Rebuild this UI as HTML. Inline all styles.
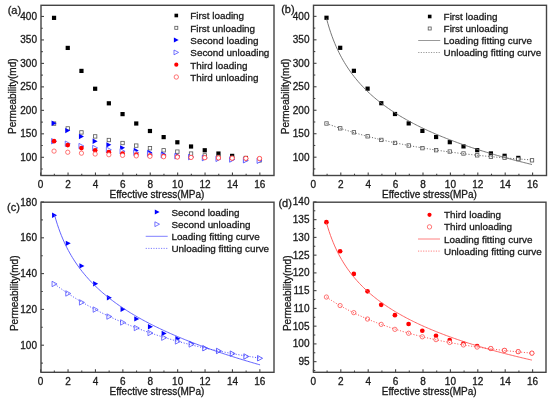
<!DOCTYPE html>
<html><head><meta charset="utf-8"><style>
html,body{margin:0;padding:0;background:#fff;}
svg{display:block;will-change:transform;}
text{font-family:"Liberation Sans", sans-serif;font-size:10px;fill:#1a1a1a;stroke:#1a1a1a;stroke-width:0.3px;}
</style></head><body>
<svg width="550" height="399" viewBox="0 0 550 399">
<rect width="550" height="399" fill="#fff"/>
<rect x="41" y="5.3" width="233" height="170.2" fill="none" stroke="#444" stroke-width="1.4"/>
<line x1="40.65" y1="175.5" x2="40.65" y2="172.5" stroke="#444" stroke-width="1.1"/>
<line x1="54.35" y1="175.5" x2="54.35" y2="173.7" stroke="#444" stroke-width="1.1"/>
<line x1="68.05" y1="175.5" x2="68.05" y2="172.5" stroke="#444" stroke-width="1.1"/>
<line x1="81.75" y1="175.5" x2="81.75" y2="173.7" stroke="#444" stroke-width="1.1"/>
<line x1="95.45" y1="175.5" x2="95.45" y2="172.5" stroke="#444" stroke-width="1.1"/>
<line x1="109.15" y1="175.5" x2="109.15" y2="173.7" stroke="#444" stroke-width="1.1"/>
<line x1="122.85" y1="175.5" x2="122.85" y2="172.5" stroke="#444" stroke-width="1.1"/>
<line x1="136.55" y1="175.5" x2="136.55" y2="173.7" stroke="#444" stroke-width="1.1"/>
<line x1="150.25" y1="175.5" x2="150.25" y2="172.5" stroke="#444" stroke-width="1.1"/>
<line x1="163.95" y1="175.5" x2="163.95" y2="173.7" stroke="#444" stroke-width="1.1"/>
<line x1="177.65" y1="175.5" x2="177.65" y2="172.5" stroke="#444" stroke-width="1.1"/>
<line x1="191.35" y1="175.5" x2="191.35" y2="173.7" stroke="#444" stroke-width="1.1"/>
<line x1="205.05" y1="175.5" x2="205.05" y2="172.5" stroke="#444" stroke-width="1.1"/>
<line x1="218.75" y1="175.5" x2="218.75" y2="173.7" stroke="#444" stroke-width="1.1"/>
<line x1="232.45" y1="175.5" x2="232.45" y2="172.5" stroke="#444" stroke-width="1.1"/>
<line x1="246.15" y1="175.5" x2="246.15" y2="173.7" stroke="#444" stroke-width="1.1"/>
<line x1="259.85" y1="175.5" x2="259.85" y2="172.5" stroke="#444" stroke-width="1.1"/>
<line x1="41" y1="157.30" x2="44" y2="157.30" stroke="#444" stroke-width="1.1"/>
<line x1="41" y1="133.83" x2="44" y2="133.83" stroke="#444" stroke-width="1.1"/>
<line x1="41" y1="110.35" x2="44" y2="110.35" stroke="#444" stroke-width="1.1"/>
<line x1="41" y1="86.88" x2="44" y2="86.88" stroke="#444" stroke-width="1.1"/>
<line x1="41" y1="63.40" x2="44" y2="63.40" stroke="#444" stroke-width="1.1"/>
<line x1="41" y1="39.93" x2="44" y2="39.93" stroke="#444" stroke-width="1.1"/>
<line x1="41" y1="16.45" x2="44" y2="16.45" stroke="#444" stroke-width="1.1"/>
<line x1="41" y1="169.04" x2="42.8" y2="169.04" stroke="#444" stroke-width="1.1"/>
<line x1="41" y1="145.56" x2="42.8" y2="145.56" stroke="#444" stroke-width="1.1"/>
<line x1="41" y1="122.09" x2="42.8" y2="122.09" stroke="#444" stroke-width="1.1"/>
<line x1="41" y1="98.61" x2="42.8" y2="98.61" stroke="#444" stroke-width="1.1"/>
<line x1="41" y1="75.14" x2="42.8" y2="75.14" stroke="#444" stroke-width="1.1"/>
<line x1="41" y1="51.66" x2="42.8" y2="51.66" stroke="#444" stroke-width="1.1"/>
<line x1="41" y1="28.19" x2="42.8" y2="28.19" stroke="#444" stroke-width="1.1"/>
<text x="40.65" y="187.50" text-anchor="middle">0</text>
<text x="68.05" y="187.50" text-anchor="middle">2</text>
<text x="95.45" y="187.50" text-anchor="middle">4</text>
<text x="122.85" y="187.50" text-anchor="middle">6</text>
<text x="150.25" y="187.50" text-anchor="middle">8</text>
<text x="177.65" y="187.50" text-anchor="middle">10</text>
<text x="205.05" y="187.50" text-anchor="middle">12</text>
<text x="232.45" y="187.50" text-anchor="middle">14</text>
<text x="259.85" y="187.50" text-anchor="middle">16</text>
<text x="37" y="160.80" text-anchor="end">100</text>
<text x="37" y="137.33" text-anchor="end">150</text>
<text x="37" y="113.85" text-anchor="end">200</text>
<text x="37" y="90.38" text-anchor="end">250</text>
<text x="37" y="66.90" text-anchor="end">300</text>
<text x="37" y="43.43" text-anchor="end">350</text>
<text x="37" y="19.95" text-anchor="end">400</text>
<text x="157.00" y="197.70" text-anchor="middle" style="font-size:10px">Effective stress(MPa)</text>
<text transform="translate(16.00,96.20) rotate(-90)" text-anchor="middle">Permeability(md)</text>
<text x="7.7" y="14.1" style="font-size:11px">(a)</text>
<rect x="313.5" y="5.3" width="233.0" height="170.2" fill="none" stroke="#444" stroke-width="1.4"/>
<line x1="313.40" y1="175.5" x2="313.40" y2="172.5" stroke="#444" stroke-width="1.1"/>
<line x1="327.10" y1="175.5" x2="327.10" y2="173.7" stroke="#444" stroke-width="1.1"/>
<line x1="340.80" y1="175.5" x2="340.80" y2="172.5" stroke="#444" stroke-width="1.1"/>
<line x1="354.50" y1="175.5" x2="354.50" y2="173.7" stroke="#444" stroke-width="1.1"/>
<line x1="368.20" y1="175.5" x2="368.20" y2="172.5" stroke="#444" stroke-width="1.1"/>
<line x1="381.90" y1="175.5" x2="381.90" y2="173.7" stroke="#444" stroke-width="1.1"/>
<line x1="395.60" y1="175.5" x2="395.60" y2="172.5" stroke="#444" stroke-width="1.1"/>
<line x1="409.30" y1="175.5" x2="409.30" y2="173.7" stroke="#444" stroke-width="1.1"/>
<line x1="423.00" y1="175.5" x2="423.00" y2="172.5" stroke="#444" stroke-width="1.1"/>
<line x1="436.70" y1="175.5" x2="436.70" y2="173.7" stroke="#444" stroke-width="1.1"/>
<line x1="450.40" y1="175.5" x2="450.40" y2="172.5" stroke="#444" stroke-width="1.1"/>
<line x1="464.10" y1="175.5" x2="464.10" y2="173.7" stroke="#444" stroke-width="1.1"/>
<line x1="477.80" y1="175.5" x2="477.80" y2="172.5" stroke="#444" stroke-width="1.1"/>
<line x1="491.50" y1="175.5" x2="491.50" y2="173.7" stroke="#444" stroke-width="1.1"/>
<line x1="505.20" y1="175.5" x2="505.20" y2="172.5" stroke="#444" stroke-width="1.1"/>
<line x1="518.90" y1="175.5" x2="518.90" y2="173.7" stroke="#444" stroke-width="1.1"/>
<line x1="532.60" y1="175.5" x2="532.60" y2="172.5" stroke="#444" stroke-width="1.1"/>
<line x1="313.5" y1="157.20" x2="316.5" y2="157.20" stroke="#444" stroke-width="1.1"/>
<line x1="313.5" y1="133.72" x2="316.5" y2="133.72" stroke="#444" stroke-width="1.1"/>
<line x1="313.5" y1="110.25" x2="316.5" y2="110.25" stroke="#444" stroke-width="1.1"/>
<line x1="313.5" y1="86.77" x2="316.5" y2="86.77" stroke="#444" stroke-width="1.1"/>
<line x1="313.5" y1="63.30" x2="316.5" y2="63.30" stroke="#444" stroke-width="1.1"/>
<line x1="313.5" y1="39.82" x2="316.5" y2="39.82" stroke="#444" stroke-width="1.1"/>
<line x1="313.5" y1="16.35" x2="316.5" y2="16.35" stroke="#444" stroke-width="1.1"/>
<line x1="313.5" y1="168.94" x2="315.3" y2="168.94" stroke="#444" stroke-width="1.1"/>
<line x1="313.5" y1="145.46" x2="315.3" y2="145.46" stroke="#444" stroke-width="1.1"/>
<line x1="313.5" y1="121.99" x2="315.3" y2="121.99" stroke="#444" stroke-width="1.1"/>
<line x1="313.5" y1="98.51" x2="315.3" y2="98.51" stroke="#444" stroke-width="1.1"/>
<line x1="313.5" y1="75.04" x2="315.3" y2="75.04" stroke="#444" stroke-width="1.1"/>
<line x1="313.5" y1="51.56" x2="315.3" y2="51.56" stroke="#444" stroke-width="1.1"/>
<line x1="313.5" y1="28.09" x2="315.3" y2="28.09" stroke="#444" stroke-width="1.1"/>
<text x="313.40" y="187.50" text-anchor="middle">0</text>
<text x="340.80" y="187.50" text-anchor="middle">2</text>
<text x="368.20" y="187.50" text-anchor="middle">4</text>
<text x="395.60" y="187.50" text-anchor="middle">6</text>
<text x="423.00" y="187.50" text-anchor="middle">8</text>
<text x="450.40" y="187.50" text-anchor="middle">10</text>
<text x="477.80" y="187.50" text-anchor="middle">12</text>
<text x="505.20" y="187.50" text-anchor="middle">14</text>
<text x="532.60" y="187.50" text-anchor="middle">16</text>
<text x="309.5" y="160.70" text-anchor="end">100</text>
<text x="309.5" y="137.22" text-anchor="end">150</text>
<text x="309.5" y="113.75" text-anchor="end">200</text>
<text x="309.5" y="90.27" text-anchor="end">250</text>
<text x="309.5" y="66.80" text-anchor="end">300</text>
<text x="309.5" y="43.32" text-anchor="end">350</text>
<text x="309.5" y="19.85" text-anchor="end">400</text>
<text x="429.50" y="197.70" text-anchor="middle" style="font-size:10px">Effective stress(MPa)</text>
<text transform="translate(289.30,96.50) rotate(-90)" text-anchor="middle">Permeability(md)</text>
<text x="281.2" y="12.9" style="font-size:11px">(b)</text>
<rect x="41" y="202.2" width="233" height="170.10000000000002" fill="none" stroke="#444" stroke-width="1.4"/>
<line x1="40.65" y1="372.3" x2="40.65" y2="369.3" stroke="#444" stroke-width="1.1"/>
<line x1="54.35" y1="372.3" x2="54.35" y2="370.5" stroke="#444" stroke-width="1.1"/>
<line x1="68.05" y1="372.3" x2="68.05" y2="369.3" stroke="#444" stroke-width="1.1"/>
<line x1="81.75" y1="372.3" x2="81.75" y2="370.5" stroke="#444" stroke-width="1.1"/>
<line x1="95.45" y1="372.3" x2="95.45" y2="369.3" stroke="#444" stroke-width="1.1"/>
<line x1="109.15" y1="372.3" x2="109.15" y2="370.5" stroke="#444" stroke-width="1.1"/>
<line x1="122.85" y1="372.3" x2="122.85" y2="369.3" stroke="#444" stroke-width="1.1"/>
<line x1="136.55" y1="372.3" x2="136.55" y2="370.5" stroke="#444" stroke-width="1.1"/>
<line x1="150.25" y1="372.3" x2="150.25" y2="369.3" stroke="#444" stroke-width="1.1"/>
<line x1="163.95" y1="372.3" x2="163.95" y2="370.5" stroke="#444" stroke-width="1.1"/>
<line x1="177.65" y1="372.3" x2="177.65" y2="369.3" stroke="#444" stroke-width="1.1"/>
<line x1="191.35" y1="372.3" x2="191.35" y2="370.5" stroke="#444" stroke-width="1.1"/>
<line x1="205.05" y1="372.3" x2="205.05" y2="369.3" stroke="#444" stroke-width="1.1"/>
<line x1="218.75" y1="372.3" x2="218.75" y2="370.5" stroke="#444" stroke-width="1.1"/>
<line x1="232.45" y1="372.3" x2="232.45" y2="369.3" stroke="#444" stroke-width="1.1"/>
<line x1="246.15" y1="372.3" x2="246.15" y2="370.5" stroke="#444" stroke-width="1.1"/>
<line x1="259.85" y1="372.3" x2="259.85" y2="369.3" stroke="#444" stroke-width="1.1"/>
<line x1="41" y1="345.20" x2="44" y2="345.20" stroke="#444" stroke-width="1.1"/>
<line x1="41" y1="309.40" x2="44" y2="309.40" stroke="#444" stroke-width="1.1"/>
<line x1="41" y1="273.60" x2="44" y2="273.60" stroke="#444" stroke-width="1.1"/>
<line x1="41" y1="237.80" x2="44" y2="237.80" stroke="#444" stroke-width="1.1"/>
<line x1="41" y1="202.00" x2="44" y2="202.00" stroke="#444" stroke-width="1.1"/>
<line x1="41" y1="363.10" x2="42.8" y2="363.10" stroke="#444" stroke-width="1.1"/>
<line x1="41" y1="327.30" x2="42.8" y2="327.30" stroke="#444" stroke-width="1.1"/>
<line x1="41" y1="291.50" x2="42.8" y2="291.50" stroke="#444" stroke-width="1.1"/>
<line x1="41" y1="255.70" x2="42.8" y2="255.70" stroke="#444" stroke-width="1.1"/>
<line x1="41" y1="219.90" x2="42.8" y2="219.90" stroke="#444" stroke-width="1.1"/>
<text x="40.65" y="384.80" text-anchor="middle">0</text>
<text x="68.05" y="384.80" text-anchor="middle">2</text>
<text x="95.45" y="384.80" text-anchor="middle">4</text>
<text x="122.85" y="384.80" text-anchor="middle">6</text>
<text x="150.25" y="384.80" text-anchor="middle">8</text>
<text x="177.65" y="384.80" text-anchor="middle">10</text>
<text x="205.05" y="384.80" text-anchor="middle">12</text>
<text x="232.45" y="384.80" text-anchor="middle">14</text>
<text x="259.85" y="384.80" text-anchor="middle">16</text>
<text x="37" y="348.70" text-anchor="end">100</text>
<text x="37" y="312.90" text-anchor="end">120</text>
<text x="37" y="277.10" text-anchor="end">140</text>
<text x="37" y="241.30" text-anchor="end">160</text>
<text x="37" y="205.50" text-anchor="end">180</text>
<text x="157.00" y="394.50" text-anchor="middle" style="font-size:10px">Effective stress(MPa)</text>
<text transform="translate(17.80,293.30) rotate(-90)" text-anchor="middle">Permeability(md)</text>
<text x="7.1" y="210.6" style="font-size:11px">(c)</text>
<rect x="313.5" y="202.2" width="232.5" height="170.10000000000002" fill="none" stroke="#444" stroke-width="1.4"/>
<line x1="313.40" y1="372.3" x2="313.40" y2="369.3" stroke="#444" stroke-width="1.1"/>
<line x1="327.10" y1="372.3" x2="327.10" y2="370.5" stroke="#444" stroke-width="1.1"/>
<line x1="340.80" y1="372.3" x2="340.80" y2="369.3" stroke="#444" stroke-width="1.1"/>
<line x1="354.50" y1="372.3" x2="354.50" y2="370.5" stroke="#444" stroke-width="1.1"/>
<line x1="368.20" y1="372.3" x2="368.20" y2="369.3" stroke="#444" stroke-width="1.1"/>
<line x1="381.90" y1="372.3" x2="381.90" y2="370.5" stroke="#444" stroke-width="1.1"/>
<line x1="395.60" y1="372.3" x2="395.60" y2="369.3" stroke="#444" stroke-width="1.1"/>
<line x1="409.30" y1="372.3" x2="409.30" y2="370.5" stroke="#444" stroke-width="1.1"/>
<line x1="423.00" y1="372.3" x2="423.00" y2="369.3" stroke="#444" stroke-width="1.1"/>
<line x1="436.70" y1="372.3" x2="436.70" y2="370.5" stroke="#444" stroke-width="1.1"/>
<line x1="450.40" y1="372.3" x2="450.40" y2="369.3" stroke="#444" stroke-width="1.1"/>
<line x1="464.10" y1="372.3" x2="464.10" y2="370.5" stroke="#444" stroke-width="1.1"/>
<line x1="477.80" y1="372.3" x2="477.80" y2="369.3" stroke="#444" stroke-width="1.1"/>
<line x1="491.50" y1="372.3" x2="491.50" y2="370.5" stroke="#444" stroke-width="1.1"/>
<line x1="505.20" y1="372.3" x2="505.20" y2="369.3" stroke="#444" stroke-width="1.1"/>
<line x1="518.90" y1="372.3" x2="518.90" y2="370.5" stroke="#444" stroke-width="1.1"/>
<line x1="532.60" y1="372.3" x2="532.60" y2="369.3" stroke="#444" stroke-width="1.1"/>
<line x1="313.5" y1="361.65" x2="316.5" y2="361.65" stroke="#444" stroke-width="1.1"/>
<line x1="313.5" y1="343.90" x2="316.5" y2="343.90" stroke="#444" stroke-width="1.1"/>
<line x1="313.5" y1="326.15" x2="316.5" y2="326.15" stroke="#444" stroke-width="1.1"/>
<line x1="313.5" y1="308.40" x2="316.5" y2="308.40" stroke="#444" stroke-width="1.1"/>
<line x1="313.5" y1="290.65" x2="316.5" y2="290.65" stroke="#444" stroke-width="1.1"/>
<line x1="313.5" y1="272.90" x2="316.5" y2="272.90" stroke="#444" stroke-width="1.1"/>
<line x1="313.5" y1="255.15" x2="316.5" y2="255.15" stroke="#444" stroke-width="1.1"/>
<line x1="313.5" y1="237.40" x2="316.5" y2="237.40" stroke="#444" stroke-width="1.1"/>
<line x1="313.5" y1="219.65" x2="316.5" y2="219.65" stroke="#444" stroke-width="1.1"/>
<line x1="313.5" y1="201.90" x2="316.5" y2="201.90" stroke="#444" stroke-width="1.1"/>
<line x1="313.5" y1="370.52" x2="315.3" y2="370.52" stroke="#444" stroke-width="1.1"/>
<line x1="313.5" y1="352.77" x2="315.3" y2="352.77" stroke="#444" stroke-width="1.1"/>
<line x1="313.5" y1="335.02" x2="315.3" y2="335.02" stroke="#444" stroke-width="1.1"/>
<line x1="313.5" y1="317.27" x2="315.3" y2="317.27" stroke="#444" stroke-width="1.1"/>
<line x1="313.5" y1="299.52" x2="315.3" y2="299.52" stroke="#444" stroke-width="1.1"/>
<line x1="313.5" y1="281.77" x2="315.3" y2="281.77" stroke="#444" stroke-width="1.1"/>
<line x1="313.5" y1="264.02" x2="315.3" y2="264.02" stroke="#444" stroke-width="1.1"/>
<line x1="313.5" y1="246.27" x2="315.3" y2="246.27" stroke="#444" stroke-width="1.1"/>
<line x1="313.5" y1="228.52" x2="315.3" y2="228.52" stroke="#444" stroke-width="1.1"/>
<line x1="313.5" y1="210.77" x2="315.3" y2="210.77" stroke="#444" stroke-width="1.1"/>
<text x="313.40" y="384.80" text-anchor="middle">0</text>
<text x="340.80" y="384.80" text-anchor="middle">2</text>
<text x="368.20" y="384.80" text-anchor="middle">4</text>
<text x="395.60" y="384.80" text-anchor="middle">6</text>
<text x="423.00" y="384.80" text-anchor="middle">8</text>
<text x="450.40" y="384.80" text-anchor="middle">10</text>
<text x="477.80" y="384.80" text-anchor="middle">12</text>
<text x="505.20" y="384.80" text-anchor="middle">14</text>
<text x="532.60" y="384.80" text-anchor="middle">16</text>
<text x="309.5" y="365.15" text-anchor="end">95</text>
<text x="309.5" y="347.40" text-anchor="end">100</text>
<text x="309.5" y="329.65" text-anchor="end">105</text>
<text x="309.5" y="311.90" text-anchor="end">110</text>
<text x="309.5" y="294.15" text-anchor="end">115</text>
<text x="309.5" y="276.40" text-anchor="end">120</text>
<text x="309.5" y="258.65" text-anchor="end">125</text>
<text x="309.5" y="240.90" text-anchor="end">130</text>
<text x="309.5" y="223.15" text-anchor="end">135</text>
<text x="309.5" y="205.40" text-anchor="end">140</text>
<text x="429.25" y="394.50" text-anchor="middle" style="font-size:10px">Effective stress(MPa)</text>
<text transform="translate(291.30,293.30) rotate(-90)" text-anchor="middle">Permeability(md)</text>
<text x="278.4" y="206.5" style="font-size:11px">(d)</text>
<rect x="51.95" y="15.76" width="4.2" height="4.2" fill="#000"/>
<rect x="65.65" y="45.81" width="4.2" height="4.2" fill="#000"/>
<rect x="79.35" y="68.81" width="4.2" height="4.2" fill="#000"/>
<rect x="93.05" y="86.65" width="4.2" height="4.2" fill="#000"/>
<rect x="106.75" y="101.21" width="4.2" height="4.2" fill="#000"/>
<rect x="120.45" y="112.01" width="4.2" height="4.2" fill="#000"/>
<rect x="134.15" y="121.40" width="4.2" height="4.2" fill="#000"/>
<rect x="147.85" y="128.91" width="4.2" height="4.2" fill="#000"/>
<rect x="161.55" y="135.01" width="4.2" height="4.2" fill="#000"/>
<rect x="175.25" y="140.18" width="4.2" height="4.2" fill="#000"/>
<rect x="188.95" y="144.40" width="4.2" height="4.2" fill="#000"/>
<rect x="202.65" y="148.16" width="4.2" height="4.2" fill="#000"/>
<rect x="216.35" y="151.44" width="4.2" height="4.2" fill="#000"/>
<rect x="230.05" y="153.79" width="4.2" height="4.2" fill="#000"/>
<rect x="243.75" y="155.90" width="4.2" height="4.2" fill="#000"/>
<rect x="52.35" y="121.89" width="3.4000000000000004" height="3.4000000000000004" fill="#fff" stroke="#555" stroke-width="0.8"/>
<rect x="66.05" y="126.73" width="3.4000000000000004" height="3.4000000000000004" fill="#fff" stroke="#555" stroke-width="0.8"/>
<rect x="79.75" y="130.72" width="3.4000000000000004" height="3.4000000000000004" fill="#fff" stroke="#555" stroke-width="0.8"/>
<rect x="93.45" y="134.71" width="3.4000000000000004" height="3.4000000000000004" fill="#fff" stroke="#555" stroke-width="0.8"/>
<rect x="107.15" y="138.32" width="3.4000000000000004" height="3.4000000000000004" fill="#fff" stroke="#555" stroke-width="0.8"/>
<rect x="120.85" y="141.33" width="3.4000000000000004" height="3.4000000000000004" fill="#fff" stroke="#555" stroke-width="0.8"/>
<rect x="134.55" y="143.91" width="3.4000000000000004" height="3.4000000000000004" fill="#fff" stroke="#555" stroke-width="0.8"/>
<rect x="148.25" y="146.54" width="3.4000000000000004" height="3.4000000000000004" fill="#fff" stroke="#555" stroke-width="0.8"/>
<rect x="161.95" y="148.60" width="3.4000000000000004" height="3.4000000000000004" fill="#fff" stroke="#555" stroke-width="0.8"/>
<rect x="175.65" y="149.92" width="3.4000000000000004" height="3.4000000000000004" fill="#fff" stroke="#555" stroke-width="0.8"/>
<rect x="189.35" y="151.89" width="3.4000000000000004" height="3.4000000000000004" fill="#fff" stroke="#555" stroke-width="0.8"/>
<rect x="203.05" y="153.72" width="3.4000000000000004" height="3.4000000000000004" fill="#fff" stroke="#555" stroke-width="0.8"/>
<rect x="216.75" y="155.13" width="3.4000000000000004" height="3.4000000000000004" fill="#fff" stroke="#555" stroke-width="0.8"/>
<rect x="230.45" y="156.12" width="3.4000000000000004" height="3.4000000000000004" fill="#fff" stroke="#555" stroke-width="0.8"/>
<rect x="244.15" y="157.48" width="3.4000000000000004" height="3.4000000000000004" fill="#fff" stroke="#555" stroke-width="0.8"/>
<rect x="257.85" y="158.70" width="3.4000000000000004" height="3.4000000000000004" fill="#fff" stroke="#555" stroke-width="0.8"/>
<polygon points="51.55,120.51 56.55,123.21 51.55,125.91" fill="#0000ff"/>
<polygon points="65.25,127.89 70.25,130.59 65.25,133.29" fill="#0000ff"/>
<polygon points="78.95,133.80 83.95,136.50 78.95,139.20" fill="#0000ff"/>
<polygon points="92.65,138.50 97.65,141.20 92.65,143.90" fill="#0000ff"/>
<polygon points="106.35,142.16 111.35,144.86 106.35,147.56" fill="#0000ff"/>
<polygon points="120.05,145.16 125.05,147.86 120.05,150.56" fill="#0000ff"/>
<polygon points="133.75,147.70 138.75,150.40 133.75,153.10" fill="#0000ff"/>
<polygon points="147.45,149.76 152.45,152.46 147.45,155.16" fill="#0000ff"/>
<polygon points="161.15,151.50 166.15,154.20 161.15,156.90" fill="#0000ff"/>
<polygon points="174.85,152.91 179.85,155.61 174.85,158.31" fill="#0000ff"/>
<polygon points="188.55,154.13 193.55,156.83 188.55,159.53" fill="#0000ff"/>
<polygon points="202.25,155.40 207.25,158.10 202.25,160.80" fill="#0000ff"/>
<polygon points="215.95,156.10 220.95,158.80 215.95,161.50" fill="#0000ff"/>
<polygon points="229.65,156.81 234.65,159.51 229.65,162.21" fill="#0000ff"/>
<polygon points="243.35,157.56 248.35,160.26 243.35,162.96" fill="#0000ff"/>
<polygon points="257.05,158.03 262.05,160.73 257.05,163.43" fill="#0000ff"/>
<polygon points="51.55,138.54 56.55,141.24 51.55,143.94" fill="#fff" stroke="#4848ff" stroke-width="0.75"/>
<polygon points="65.25,141.03 70.25,143.73 65.25,146.43" fill="#fff" stroke="#4848ff" stroke-width="0.75"/>
<polygon points="78.95,143.38 83.95,146.08 78.95,148.78" fill="#fff" stroke="#4848ff" stroke-width="0.75"/>
<polygon points="92.65,145.26 97.65,147.96 92.65,150.66" fill="#fff" stroke="#4848ff" stroke-width="0.75"/>
<polygon points="106.35,147.09 111.35,149.79 106.35,152.49" fill="#fff" stroke="#4848ff" stroke-width="0.75"/>
<polygon points="120.05,148.64 125.05,151.34 120.05,154.04" fill="#fff" stroke="#4848ff" stroke-width="0.75"/>
<polygon points="133.75,150.09 138.75,152.79 133.75,155.49" fill="#fff" stroke="#4848ff" stroke-width="0.75"/>
<polygon points="147.45,151.41 152.45,154.11 147.45,156.81" fill="#fff" stroke="#4848ff" stroke-width="0.75"/>
<polygon points="161.15,152.63 166.15,155.33 161.15,158.03" fill="#fff" stroke="#4848ff" stroke-width="0.75"/>
<polygon points="174.85,153.61 179.85,156.31 174.85,159.01" fill="#fff" stroke="#4848ff" stroke-width="0.75"/>
<polygon points="188.55,154.41 193.55,157.11 188.55,159.81" fill="#fff" stroke="#4848ff" stroke-width="0.75"/>
<polygon points="202.25,155.40 207.25,158.10 202.25,160.80" fill="#fff" stroke="#4848ff" stroke-width="0.75"/>
<polygon points="215.95,156.10 220.95,158.80 215.95,161.50" fill="#fff" stroke="#4848ff" stroke-width="0.75"/>
<polygon points="229.65,156.81 234.65,159.51 229.65,162.21" fill="#fff" stroke="#4848ff" stroke-width="0.75"/>
<polygon points="243.35,157.56 248.35,160.26 243.35,162.96" fill="#fff" stroke="#4848ff" stroke-width="0.75"/>
<polygon points="257.05,158.03 262.05,160.73 257.05,163.43" fill="#fff" stroke="#4848ff" stroke-width="0.75"/>
<circle cx="54.05" cy="141.20" r="2.35" fill="#ff0000"/>
<circle cx="67.75" cy="145.05" r="2.35" fill="#ff0000"/>
<circle cx="81.45" cy="148.05" r="2.35" fill="#ff0000"/>
<circle cx="95.15" cy="150.35" r="2.35" fill="#ff0000"/>
<circle cx="108.85" cy="152.14" r="2.35" fill="#ff0000"/>
<circle cx="122.55" cy="153.50" r="2.35" fill="#ff0000"/>
<circle cx="136.25" cy="154.67" r="2.35" fill="#ff0000"/>
<circle cx="149.95" cy="155.56" r="2.35" fill="#ff0000"/>
<circle cx="163.65" cy="156.22" r="2.35" fill="#ff0000"/>
<circle cx="177.35" cy="156.78" r="2.35" fill="#ff0000"/>
<circle cx="191.05" cy="157.25" r="2.35" fill="#ff0000"/>
<circle cx="204.75" cy="157.58" r="2.35" fill="#ff0000"/>
<circle cx="218.45" cy="157.91" r="2.35" fill="#ff0000"/>
<circle cx="232.15" cy="158.15" r="2.35" fill="#ff0000"/>
<circle cx="245.85" cy="158.33" r="2.35" fill="#ff0000"/>
<circle cx="259.55" cy="158.52" r="2.35" fill="#ff0000"/>
<circle cx="54.05" cy="151.10" r="2.15" fill="#fff" stroke="#ff4848" stroke-width="0.75"/>
<circle cx="67.75" cy="152.23" r="2.15" fill="#fff" stroke="#ff4848" stroke-width="0.75"/>
<circle cx="81.45" cy="153.17" r="2.15" fill="#fff" stroke="#ff4848" stroke-width="0.75"/>
<circle cx="95.15" cy="154.01" r="2.15" fill="#fff" stroke="#ff4848" stroke-width="0.75"/>
<circle cx="108.85" cy="154.72" r="2.15" fill="#fff" stroke="#ff4848" stroke-width="0.75"/>
<circle cx="122.55" cy="155.38" r="2.15" fill="#fff" stroke="#ff4848" stroke-width="0.75"/>
<circle cx="136.25" cy="155.89" r="2.15" fill="#fff" stroke="#ff4848" stroke-width="0.75"/>
<circle cx="149.95" cy="156.36" r="2.15" fill="#fff" stroke="#ff4848" stroke-width="0.75"/>
<circle cx="163.65" cy="156.74" r="2.15" fill="#fff" stroke="#ff4848" stroke-width="0.75"/>
<circle cx="177.35" cy="157.11" r="2.15" fill="#fff" stroke="#ff4848" stroke-width="0.75"/>
<circle cx="191.05" cy="157.44" r="2.15" fill="#fff" stroke="#ff4848" stroke-width="0.75"/>
<circle cx="204.75" cy="157.72" r="2.15" fill="#fff" stroke="#ff4848" stroke-width="0.75"/>
<circle cx="218.45" cy="157.91" r="2.15" fill="#fff" stroke="#ff4848" stroke-width="0.75"/>
<circle cx="232.15" cy="158.15" r="2.15" fill="#fff" stroke="#ff4848" stroke-width="0.75"/>
<circle cx="245.85" cy="158.33" r="2.15" fill="#fff" stroke="#ff4848" stroke-width="0.75"/>
<circle cx="259.55" cy="158.52" r="2.15" fill="#fff" stroke="#ff4848" stroke-width="0.75"/>
<rect x="174.50" y="13.70" width="3.6" height="3.6" fill="#000"/>
<text x="190.3" y="19.30" style="font-size:9.9px">First loading</text>
<rect x="174.80" y="26.30" width="3.0" height="3.0" fill="#fff" stroke="#555" stroke-width="0.8"/>
<text x="190.3" y="31.60" style="font-size:9.9px">First unloading</text>
<polygon points="173.90,37.60 178.70,40.10 173.90,42.60" fill="#0000ff"/>
<text x="190.3" y="43.90" style="font-size:9.9px">Second loading</text>
<polygon points="174.00,50.00 178.60,52.40 174.00,54.80" fill="#fff" stroke="#4848ff" stroke-width="0.75"/>
<text x="190.3" y="56.20" style="font-size:9.9px">Second unloading</text>
<circle cx="176.30" cy="64.70" r="2.1" fill="#ff0000"/>
<text x="190.3" y="68.50" style="font-size:9.9px">Third loading</text>
<circle cx="176.30" cy="77.00" r="2.1999999999999997" fill="#fff" stroke="#ff4848" stroke-width="0.75"/>
<text x="190.3" y="80.80" style="font-size:9.9px">Third unloading</text>
<rect x="324.40" y="15.66" width="4.2" height="4.2" fill="#000"/>
<rect x="338.10" y="45.71" width="4.2" height="4.2" fill="#000"/>
<rect x="351.80" y="68.71" width="4.2" height="4.2" fill="#000"/>
<rect x="365.50" y="86.55" width="4.2" height="4.2" fill="#000"/>
<rect x="379.20" y="101.11" width="4.2" height="4.2" fill="#000"/>
<rect x="392.90" y="111.91" width="4.2" height="4.2" fill="#000"/>
<rect x="406.60" y="121.30" width="4.2" height="4.2" fill="#000"/>
<rect x="420.30" y="128.81" width="4.2" height="4.2" fill="#000"/>
<rect x="434.00" y="134.91" width="4.2" height="4.2" fill="#000"/>
<rect x="447.70" y="140.08" width="4.2" height="4.2" fill="#000"/>
<rect x="461.40" y="144.30" width="4.2" height="4.2" fill="#000"/>
<rect x="475.10" y="148.06" width="4.2" height="4.2" fill="#000"/>
<rect x="488.80" y="151.34" width="4.2" height="4.2" fill="#000"/>
<rect x="502.50" y="153.69" width="4.2" height="4.2" fill="#000"/>
<rect x="516.20" y="155.80" width="4.2" height="4.2" fill="#000"/>
<rect x="324.80" y="121.79" width="3.4000000000000004" height="3.4000000000000004" fill="#fff" stroke="#555" stroke-width="0.8"/>
<rect x="338.50" y="126.63" width="3.4000000000000004" height="3.4000000000000004" fill="#fff" stroke="#555" stroke-width="0.8"/>
<rect x="352.20" y="130.62" width="3.4000000000000004" height="3.4000000000000004" fill="#fff" stroke="#555" stroke-width="0.8"/>
<rect x="365.90" y="134.61" width="3.4000000000000004" height="3.4000000000000004" fill="#fff" stroke="#555" stroke-width="0.8"/>
<rect x="379.60" y="138.22" width="3.4000000000000004" height="3.4000000000000004" fill="#fff" stroke="#555" stroke-width="0.8"/>
<rect x="393.30" y="141.23" width="3.4000000000000004" height="3.4000000000000004" fill="#fff" stroke="#555" stroke-width="0.8"/>
<rect x="407.00" y="143.81" width="3.4000000000000004" height="3.4000000000000004" fill="#fff" stroke="#555" stroke-width="0.8"/>
<rect x="420.70" y="146.44" width="3.4000000000000004" height="3.4000000000000004" fill="#fff" stroke="#555" stroke-width="0.8"/>
<rect x="434.40" y="148.50" width="3.4000000000000004" height="3.4000000000000004" fill="#fff" stroke="#555" stroke-width="0.8"/>
<rect x="448.10" y="149.82" width="3.4000000000000004" height="3.4000000000000004" fill="#fff" stroke="#555" stroke-width="0.8"/>
<rect x="461.80" y="151.79" width="3.4000000000000004" height="3.4000000000000004" fill="#fff" stroke="#555" stroke-width="0.8"/>
<rect x="475.50" y="153.62" width="3.4000000000000004" height="3.4000000000000004" fill="#fff" stroke="#555" stroke-width="0.8"/>
<rect x="489.20" y="155.03" width="3.4000000000000004" height="3.4000000000000004" fill="#fff" stroke="#555" stroke-width="0.8"/>
<rect x="502.90" y="156.02" width="3.4000000000000004" height="3.4000000000000004" fill="#fff" stroke="#555" stroke-width="0.8"/>
<rect x="516.60" y="157.38" width="3.4000000000000004" height="3.4000000000000004" fill="#fff" stroke="#555" stroke-width="0.8"/>
<rect x="530.30" y="158.60" width="3.4000000000000004" height="3.4000000000000004" fill="#fff" stroke="#555" stroke-width="0.8"/>
<path d="M326.50,18.46 L327.88,23.52 L329.26,28.13 L330.64,32.37 L332.02,36.29 L333.40,39.94 L334.78,43.35 L336.15,46.56 L337.53,49.58 L338.91,52.44 L340.29,55.15 L341.67,57.73 L343.05,60.19 L344.43,62.54 L345.81,64.79 L347.19,66.94 L348.57,69.01 L349.95,71.01 L351.33,72.93 L352.70,74.78 L354.08,76.57 L355.46,78.30 L356.84,79.98 L358.22,81.60 L359.60,83.18 L360.98,84.71 L362.36,86.19 L363.74,87.64 L365.12,89.05 L366.50,90.42 L367.88,91.75 L369.26,93.06 L370.63,94.33 L372.01,95.57 L373.39,96.78 L374.77,97.97 L376.15,99.13 L377.53,100.26 L378.91,101.37 L380.29,102.46 L381.67,103.53 L383.05,104.57 L384.43,105.60 L385.81,106.60 L387.18,107.59 L388.56,108.55 L389.94,109.50 L391.32,110.44 L392.70,111.35 L394.08,112.26 L395.46,113.14 L396.84,114.01 L398.22,114.87 L399.60,115.72 L400.98,116.55 L402.36,117.36 L403.73,118.17 L405.11,118.96 L406.49,119.74 L407.87,120.51 L409.25,121.27 L410.63,122.02 L412.01,122.76 L413.39,123.48 L414.77,124.20 L416.15,124.91 L417.53,125.61 L418.91,126.30 L420.29,126.98 L421.66,127.65 L423.04,128.31 L424.42,128.97 L425.80,129.61 L427.18,130.25 L428.56,130.88 L429.94,131.51 L431.32,132.12 L432.70,132.73 L434.08,133.34 L435.46,133.93 L436.84,134.52 L438.21,135.10 L439.59,135.68 L440.97,136.25 L442.35,136.81 L443.73,137.37 L445.11,137.92 L446.49,138.47 L447.87,139.01 L449.25,139.55 L450.63,140.08 L452.01,140.60 L453.39,141.12 L454.77,141.63 L456.14,142.14 L457.52,142.65 L458.90,143.15 L460.28,143.64 L461.66,144.13 L463.04,144.62 L464.42,145.10 L465.80,145.58 L467.18,146.05 L468.56,146.52 L469.94,146.98 L471.32,147.44 L472.69,147.90 L474.07,148.35 L475.45,148.80 L476.83,149.24 L478.21,149.69 L479.59,150.12 L480.97,150.56 L482.35,150.99 L483.73,151.41 L485.11,151.84 L486.49,152.26 L487.87,152.67 L489.24,153.09 L490.62,153.50 L492.00,153.90 L493.38,154.31 L494.76,154.71 L496.14,155.11 L497.52,155.50 L498.90,155.89 L500.28,156.28 L501.66,156.67 L503.04,157.05 L504.42,157.43 L505.80,157.81 L507.17,158.19 L508.55,158.56 L509.93,158.93 L511.31,159.29 L512.69,159.66 L514.07,160.02 L515.45,160.38 L516.83,160.74 L518.21,161.09 L519.59,161.45 L520.97,161.80 L522.35,162.14 L523.72,162.49 L525.10,162.83 L526.48,163.17 L527.86,163.51 L529.24,163.85 L530.62,164.18 L532.00,164.52" fill="none" stroke="#666" stroke-width="0.9"/>
<path d="M326.50,123.49 L328.23,124.13 L329.95,124.75 L331.68,125.37 L333.41,125.98 L335.13,126.58 L336.86,127.17 L338.59,127.75 L340.32,128.33 L342.04,128.89 L343.77,129.45 L345.50,130.00 L347.22,130.54 L348.95,131.07 L350.68,131.60 L352.40,132.12 L354.13,132.63 L355.86,133.13 L357.58,133.62 L359.31,134.11 L361.04,134.59 L362.76,135.07 L364.49,135.54 L366.22,136.00 L367.95,136.45 L369.67,136.90 L371.40,137.34 L373.13,137.78 L374.85,138.21 L376.58,138.63 L378.31,139.05 L380.03,139.46 L381.76,139.86 L383.49,140.26 L385.21,140.66 L386.94,141.05 L388.67,141.43 L390.39,141.81 L392.12,142.18 L393.85,142.54 L395.58,142.91 L397.30,143.26 L399.03,143.61 L400.76,143.96 L402.48,144.30 L404.21,144.64 L405.94,144.97 L407.66,145.30 L409.39,145.62 L411.12,145.94 L412.84,146.25 L414.57,146.56 L416.30,146.86 L418.03,147.17 L419.75,147.46 L421.48,147.75 L423.21,148.04 L424.93,148.33 L426.66,148.60 L428.39,148.88 L430.11,149.15 L431.84,149.42 L433.57,149.68 L435.29,149.95 L437.02,150.20 L438.75,150.46 L440.47,150.71 L442.20,150.95 L443.93,151.19 L445.66,151.43 L447.38,151.67 L449.11,151.90 L450.84,152.13 L452.56,152.36 L454.29,152.58 L456.02,152.80 L457.74,153.02 L459.47,153.23 L461.20,153.44 L462.92,153.65 L464.65,153.85 L466.38,154.05 L468.11,154.25 L469.83,154.45 L471.56,154.64 L473.29,154.83 L475.01,155.02 L476.74,155.21 L478.47,155.39 L480.19,155.57 L481.92,155.75 L483.65,155.92 L485.37,156.09 L487.10,156.26 L488.83,156.43 L490.55,156.60 L492.28,156.76 L494.01,156.92 L495.74,157.08 L497.46,157.23 L499.19,157.39 L500.92,157.54 L502.64,157.69 L504.37,157.84 L506.10,157.98 L507.82,158.13 L509.55,158.27 L511.28,158.41 L513.00,158.54 L514.73,158.68 L516.46,158.81 L518.18,158.95 L519.91,159.08 L521.64,159.20 L523.37,159.33 L525.09,159.45 L526.82,159.58 L528.55,159.70 L530.27,159.82 L532.00,159.93" fill="none" stroke="#555" stroke-width="0.9" stroke-dasharray="1.1,1.7"/>
<rect x="427.90" y="14.70" width="3.6" height="3.6" fill="#000"/>
<text x="443.6" y="20.30" style="font-size:9.9px">First loading</text>
<rect x="428.20" y="27.00" width="3.0" height="3.0" fill="#fff" stroke="#555" stroke-width="0.8"/>
<text x="443.6" y="32.30" style="font-size:9.9px">First unloading</text>
<line x1="418.2" y1="40.50" x2="440.2" y2="40.50" stroke="#999" stroke-width="1"/>
<text x="443.6" y="44.30" style="font-size:9.9px">Loading fitting curve</text>
<line x1="418.2" y1="52.50" x2="440.2" y2="52.50" stroke="#999" stroke-width="1" stroke-dasharray="1.2,1.35"/>
<text x="443.6" y="56.30" style="font-size:9.9px">Unloading fitting curve</text>
<polygon points="52.05,212.55 57.05,215.25 52.05,217.95" fill="#0000ff"/>
<polygon points="65.75,240.65 70.75,243.35 65.75,246.05" fill="#0000ff"/>
<polygon points="79.45,263.20 84.45,265.90 79.45,268.60" fill="#0000ff"/>
<polygon points="93.15,281.10 98.15,283.80 93.15,286.50" fill="#0000ff"/>
<polygon points="106.85,295.06 111.85,297.76 106.85,300.46" fill="#0000ff"/>
<polygon points="120.55,306.52 125.55,309.22 120.55,311.92" fill="#0000ff"/>
<polygon points="134.25,316.19 139.25,318.89 134.25,321.59" fill="#0000ff"/>
<polygon points="147.95,324.06 152.95,326.76 147.95,329.46" fill="#0000ff"/>
<polygon points="161.65,330.69 166.65,333.39 161.65,336.09" fill="#0000ff"/>
<polygon points="175.35,336.06 180.35,338.76 175.35,341.46" fill="#0000ff"/>
<polygon points="189.05,340.71 194.05,343.41 189.05,346.11" fill="#0000ff"/>
<polygon points="202.75,345.54 207.75,348.24 202.75,350.94" fill="#0000ff"/>
<polygon points="216.45,348.23 221.45,350.93 216.45,353.63" fill="#0000ff"/>
<polygon points="230.15,350.91 235.15,353.61 230.15,356.31" fill="#0000ff"/>
<polygon points="243.85,353.78 248.85,356.48 243.85,359.18" fill="#0000ff"/>
<polygon points="257.55,355.57 262.55,358.27 257.55,360.97" fill="#0000ff"/>
<polygon points="52.05,281.28 57.05,283.98 52.05,286.68" fill="#fff" stroke="#4848ff" stroke-width="0.75"/>
<polygon points="65.75,290.77 70.75,293.47 65.75,296.17" fill="#fff" stroke="#4848ff" stroke-width="0.75"/>
<polygon points="79.45,299.72 84.45,302.42 79.45,305.12" fill="#fff" stroke="#4848ff" stroke-width="0.75"/>
<polygon points="93.15,306.88 98.15,309.58 93.15,312.28" fill="#fff" stroke="#4848ff" stroke-width="0.75"/>
<polygon points="106.85,313.86 111.85,316.56 106.85,319.26" fill="#fff" stroke="#4848ff" stroke-width="0.75"/>
<polygon points="120.55,319.77 125.55,322.47 120.55,325.17" fill="#fff" stroke="#4848ff" stroke-width="0.75"/>
<polygon points="134.25,325.32 139.25,328.02 134.25,330.72" fill="#fff" stroke="#4848ff" stroke-width="0.75"/>
<polygon points="147.95,330.33 152.95,333.03 147.95,335.73" fill="#fff" stroke="#4848ff" stroke-width="0.75"/>
<polygon points="161.65,334.98 166.65,337.68 161.65,340.38" fill="#fff" stroke="#4848ff" stroke-width="0.75"/>
<polygon points="175.35,338.74 180.35,341.44 175.35,344.14" fill="#fff" stroke="#4848ff" stroke-width="0.75"/>
<polygon points="189.05,341.78 194.05,344.48 189.05,347.18" fill="#fff" stroke="#4848ff" stroke-width="0.75"/>
<polygon points="202.75,345.54 207.75,348.24 202.75,350.94" fill="#fff" stroke="#4848ff" stroke-width="0.75"/>
<polygon points="216.45,348.23 221.45,350.93 216.45,353.63" fill="#fff" stroke="#4848ff" stroke-width="0.75"/>
<polygon points="230.15,350.91 235.15,353.61 230.15,356.31" fill="#fff" stroke="#4848ff" stroke-width="0.75"/>
<polygon points="243.85,353.78 248.85,356.48 243.85,359.18" fill="#fff" stroke="#4848ff" stroke-width="0.75"/>
<polygon points="257.55,355.57 262.55,358.27 257.55,360.97" fill="#fff" stroke="#4848ff" stroke-width="0.75"/>
<path d="M54.55,215.00 L55.93,219.85 L57.31,224.28 L58.69,228.37 L60.07,232.15 L61.45,235.68 L62.83,238.98 L64.20,242.09 L65.58,245.02 L66.96,247.80 L68.34,250.44 L69.72,252.96 L71.10,255.36 L72.48,257.66 L73.86,259.86 L75.24,261.98 L76.62,264.01 L78.00,265.97 L79.38,267.87 L80.75,269.70 L82.13,271.47 L83.51,273.18 L84.89,274.84 L86.27,276.46 L87.65,278.03 L89.03,279.55 L90.41,281.04 L91.79,282.48 L93.17,283.89 L94.55,285.26 L95.93,286.61 L97.31,287.92 L98.68,289.20 L100.06,290.45 L101.44,291.68 L102.82,292.88 L104.20,294.05 L105.58,295.20 L106.96,296.33 L108.34,297.44 L109.72,298.53 L111.10,299.59 L112.48,300.64 L113.86,301.67 L115.23,302.68 L116.61,303.67 L117.99,304.65 L119.37,305.61 L120.75,306.56 L122.13,307.49 L123.51,308.41 L124.89,309.31 L126.27,310.20 L127.65,311.08 L129.03,311.94 L130.41,312.80 L131.78,313.64 L133.16,314.47 L134.54,315.28 L135.92,316.09 L137.30,316.89 L138.68,317.67 L140.06,318.45 L141.44,319.22 L142.82,319.98 L144.20,320.72 L145.58,321.46 L146.96,322.20 L148.34,322.92 L149.71,323.63 L151.09,324.34 L152.47,325.04 L153.85,325.73 L155.23,326.41 L156.61,327.09 L157.99,327.76 L159.37,328.42 L160.75,329.08 L162.13,329.73 L163.51,330.37 L164.89,331.01 L166.26,331.64 L167.64,332.26 L169.02,332.88 L170.40,333.49 L171.78,334.10 L173.16,334.70 L174.54,335.30 L175.92,335.89 L177.30,336.47 L178.68,337.06 L180.06,337.63 L181.44,338.20 L182.82,338.77 L184.19,339.33 L185.57,339.89 L186.95,340.44 L188.33,340.99 L189.71,341.53 L191.09,342.07 L192.47,342.60 L193.85,343.13 L195.23,343.66 L196.61,344.18 L197.99,344.70 L199.37,345.22 L200.74,345.73 L202.12,346.24 L203.50,346.74 L204.88,347.24 L206.26,347.74 L207.64,348.23 L209.02,348.72 L210.40,349.21 L211.78,349.69 L213.16,350.17 L214.54,350.65 L215.92,351.12 L217.29,351.59 L218.67,352.06 L220.05,352.53 L221.43,352.99 L222.81,353.45 L224.19,353.90 L225.57,354.36 L226.95,354.81 L228.33,355.25 L229.71,355.70 L231.09,356.14 L232.47,356.58 L233.85,357.02 L235.22,357.45 L236.60,357.89 L237.98,358.32 L239.36,358.74 L240.74,359.17 L242.12,359.59 L243.50,360.01 L244.88,360.43 L246.26,360.84 L247.64,361.26 L249.02,361.67 L250.40,362.08 L251.77,362.48 L253.15,362.89 L254.53,363.29 L255.91,363.69 L257.29,364.09 L258.67,364.49 L260.05,364.88" fill="none" stroke="#5050ff" stroke-width="0.9"/>
<path d="M54.55,283.98 L56.28,285.28 L58.00,286.55 L59.73,287.80 L61.46,289.02 L63.18,290.22 L64.91,291.41 L66.64,292.57 L68.37,293.72 L70.09,294.84 L71.82,295.95 L73.55,297.05 L75.27,298.12 L77.00,299.19 L78.73,300.23 L80.45,301.26 L82.18,302.28 L83.91,303.28 L85.63,304.26 L87.36,305.24 L89.09,306.20 L90.81,307.14 L92.54,308.08 L94.27,309.00 L96.00,309.90 L97.72,310.80 L99.45,311.68 L101.18,312.55 L102.90,313.41 L104.63,314.25 L106.36,315.09 L108.08,315.91 L109.81,316.72 L111.54,317.52 L113.26,318.31 L114.99,319.09 L116.72,319.86 L118.44,320.62 L120.17,321.37 L121.90,322.11 L123.63,322.84 L125.35,323.55 L127.08,324.26 L128.81,324.96 L130.53,325.65 L132.26,326.33 L133.99,327.00 L135.71,327.67 L137.44,328.32 L139.17,328.97 L140.89,329.60 L142.62,330.23 L144.35,330.85 L146.08,331.46 L147.80,332.06 L149.53,332.66 L151.26,333.25 L152.98,333.83 L154.71,334.40 L156.44,334.96 L158.16,335.52 L159.89,336.07 L161.62,336.61 L163.34,337.14 L165.07,337.67 L166.80,338.19 L168.52,338.70 L170.25,339.21 L171.98,339.71 L173.71,340.20 L175.43,340.69 L177.16,341.17 L178.89,341.65 L180.61,342.11 L182.34,342.58 L184.07,343.03 L185.79,343.48 L187.52,343.92 L189.25,344.36 L190.97,344.79 L192.70,345.22 L194.43,345.64 L196.16,346.06 L197.88,346.46 L199.61,346.87 L201.34,347.27 L203.06,347.66 L204.79,348.05 L206.52,348.43 L208.24,348.81 L209.97,349.18 L211.70,349.55 L213.42,349.92 L215.15,350.27 L216.88,350.63 L218.60,350.98 L220.33,351.32 L222.06,351.66 L223.79,352.00 L225.51,352.33 L227.24,352.65 L228.97,352.98 L230.69,353.29 L232.42,353.61 L234.15,353.92 L235.87,354.22 L237.60,354.53 L239.33,354.82 L241.05,355.12 L242.78,355.41 L244.51,355.69 L246.23,355.98 L247.96,356.25 L249.69,356.53 L251.42,356.80 L253.14,357.07 L254.87,357.33 L256.60,357.59 L258.32,357.85 L260.05,358.11" fill="none" stroke="#4040ff" stroke-width="0.9" stroke-dasharray="1.1,1.7"/>
<polygon points="154.80,209.60 159.60,212.10 154.80,214.60" fill="#0000ff"/>
<text x="171.4" y="215.60" style="font-size:9.9px">Second loading</text>
<polygon points="154.90,221.80 159.50,224.20 154.90,226.60" fill="#fff" stroke="#4848ff" stroke-width="0.75"/>
<text x="171.4" y="227.70" style="font-size:9.9px">Second unloading</text>
<line x1="145.7" y1="236.30" x2="167.7" y2="236.30" stroke="#8080ff" stroke-width="1"/>
<text x="171.4" y="239.80" style="font-size:9.9px">Loading fitting curve</text>
<line x1="145.7" y1="248.40" x2="167.7" y2="248.40" stroke="#8080ff" stroke-width="1" stroke-dasharray="1.2,1.35"/>
<text x="171.4" y="251.90" style="font-size:9.9px">Unloading fitting curve</text>
<circle cx="326.40" cy="222.13" r="2.35" fill="#ff0000"/>
<circle cx="340.10" cy="251.25" r="2.35" fill="#ff0000"/>
<circle cx="353.80" cy="273.96" r="2.35" fill="#ff0000"/>
<circle cx="367.50" cy="291.36" r="2.35" fill="#ff0000"/>
<circle cx="381.20" cy="304.85" r="2.35" fill="#ff0000"/>
<circle cx="394.90" cy="315.14" r="2.35" fill="#ff0000"/>
<circle cx="408.60" cy="324.02" r="2.35" fill="#ff0000"/>
<circle cx="422.30" cy="330.76" r="2.35" fill="#ff0000"/>
<circle cx="436.00" cy="335.74" r="2.35" fill="#ff0000"/>
<circle cx="449.70" cy="340.00" r="2.35" fill="#ff0000"/>
<circle cx="463.40" cy="343.55" r="2.35" fill="#ff0000"/>
<circle cx="477.10" cy="346.03" r="2.35" fill="#ff0000"/>
<circle cx="490.80" cy="348.51" r="2.35" fill="#ff0000"/>
<circle cx="504.50" cy="350.29" r="2.35" fill="#ff0000"/>
<circle cx="518.20" cy="351.71" r="2.35" fill="#ff0000"/>
<circle cx="531.90" cy="353.13" r="2.35" fill="#ff0000"/>
<circle cx="326.40" cy="297.04" r="2.15" fill="#fff" stroke="#ff4848" stroke-width="0.75"/>
<circle cx="340.10" cy="305.56" r="2.15" fill="#fff" stroke="#ff4848" stroke-width="0.75"/>
<circle cx="353.80" cy="312.66" r="2.15" fill="#fff" stroke="#ff4848" stroke-width="0.75"/>
<circle cx="367.50" cy="319.05" r="2.15" fill="#fff" stroke="#ff4848" stroke-width="0.75"/>
<circle cx="381.20" cy="324.38" r="2.15" fill="#fff" stroke="#ff4848" stroke-width="0.75"/>
<circle cx="394.90" cy="329.35" r="2.15" fill="#fff" stroke="#ff4848" stroke-width="0.75"/>
<circle cx="408.60" cy="333.25" r="2.15" fill="#fff" stroke="#ff4848" stroke-width="0.75"/>
<circle cx="422.30" cy="336.80" r="2.15" fill="#fff" stroke="#ff4848" stroke-width="0.75"/>
<circle cx="436.00" cy="339.64" r="2.15" fill="#fff" stroke="#ff4848" stroke-width="0.75"/>
<circle cx="449.70" cy="342.48" r="2.15" fill="#fff" stroke="#ff4848" stroke-width="0.75"/>
<circle cx="463.40" cy="344.96" r="2.15" fill="#fff" stroke="#ff4848" stroke-width="0.75"/>
<circle cx="477.10" cy="347.09" r="2.15" fill="#fff" stroke="#ff4848" stroke-width="0.75"/>
<circle cx="490.80" cy="348.51" r="2.15" fill="#fff" stroke="#ff4848" stroke-width="0.75"/>
<circle cx="504.50" cy="350.29" r="2.15" fill="#fff" stroke="#ff4848" stroke-width="0.75"/>
<circle cx="518.20" cy="351.71" r="2.15" fill="#fff" stroke="#ff4848" stroke-width="0.75"/>
<circle cx="531.90" cy="353.13" r="2.15" fill="#fff" stroke="#ff4848" stroke-width="0.75"/>
<path d="M326.40,222.49 L327.78,227.25 L329.16,231.59 L330.54,235.59 L331.92,239.28 L333.30,242.72 L334.68,245.94 L336.05,248.96 L337.43,251.81 L338.81,254.50 L340.19,257.06 L341.57,259.49 L342.95,261.80 L344.33,264.01 L345.71,266.13 L347.09,268.16 L348.47,270.12 L349.85,271.99 L351.23,273.80 L352.60,275.55 L353.98,277.23 L355.36,278.87 L356.74,280.44 L358.12,281.97 L359.50,283.46 L360.88,284.90 L362.26,286.30 L363.64,287.66 L365.02,288.99 L366.40,290.28 L367.78,291.54 L369.16,292.77 L370.53,293.96 L371.91,295.13 L373.29,296.28 L374.67,297.39 L376.05,298.49 L377.43,299.56 L378.81,300.60 L380.19,301.63 L381.57,302.63 L382.95,303.61 L384.33,304.58 L385.71,305.53 L387.08,306.45 L388.46,307.37 L389.84,308.26 L391.22,309.14 L392.60,310.01 L393.98,310.85 L395.36,311.69 L396.74,312.51 L398.12,313.32 L399.50,314.11 L400.88,314.90 L402.26,315.67 L403.63,316.43 L405.01,317.17 L406.39,317.91 L407.77,318.63 L409.15,319.35 L410.53,320.05 L411.91,320.75 L413.29,321.43 L414.67,322.11 L416.05,322.78 L417.43,323.43 L418.81,324.08 L420.19,324.72 L421.56,325.36 L422.94,325.98 L424.32,326.60 L425.70,327.21 L427.08,327.81 L428.46,328.40 L429.84,328.99 L431.22,329.57 L432.60,330.15 L433.98,330.72 L435.36,331.28 L436.74,331.83 L438.11,332.38 L439.49,332.92 L440.87,333.46 L442.25,333.99 L443.63,334.52 L445.01,335.04 L446.39,335.55 L447.77,336.06 L449.15,336.56 L450.53,337.06 L451.91,337.56 L453.29,338.05 L454.67,338.53 L456.04,339.01 L457.42,339.49 L458.80,339.96 L460.18,340.42 L461.56,340.89 L462.94,341.34 L464.32,341.80 L465.70,342.25 L467.08,342.69 L468.46,343.13 L469.84,343.57 L471.22,344.00 L472.59,344.43 L473.97,344.86 L475.35,345.28 L476.73,345.70 L478.11,346.12 L479.49,346.53 L480.87,346.94 L482.25,347.34 L483.63,347.75 L485.01,348.14 L486.39,348.54 L487.77,348.93 L489.14,349.32 L490.52,349.71 L491.90,350.09 L493.28,350.47 L494.66,350.85 L496.04,351.23 L497.42,351.60 L498.80,351.97 L500.18,352.33 L501.56,352.70 L502.94,353.06 L504.32,353.42 L505.70,353.77 L507.07,354.13 L508.45,354.48 L509.83,354.82 L511.21,355.17 L512.59,355.51 L513.97,355.86 L515.35,356.19 L516.73,356.53 L518.11,356.87 L519.49,357.20 L520.87,357.53 L522.25,357.86 L523.62,358.18 L525.00,358.50 L526.38,358.83 L527.76,359.15 L529.14,359.46 L530.52,359.78 L531.90,360.09" fill="none" stroke="#ff5050" stroke-width="0.9"/>
<path d="M326.40,297.03 L328.13,298.22 L329.85,299.37 L331.58,300.49 L333.31,301.58 L335.03,302.65 L336.76,303.68 L338.49,304.70 L340.22,305.69 L341.94,306.66 L343.67,307.62 L345.40,308.55 L347.12,309.46 L348.85,310.36 L350.58,311.24 L352.30,312.10 L354.03,312.94 L355.76,313.77 L357.48,314.59 L359.21,315.38 L360.94,316.17 L362.66,316.94 L364.39,317.69 L366.12,318.44 L367.85,319.17 L369.57,319.88 L371.30,320.59 L373.03,321.28 L374.75,321.96 L376.48,322.62 L378.21,323.28 L379.93,323.92 L381.66,324.56 L383.39,325.18 L385.11,325.79 L386.84,326.39 L388.57,326.98 L390.29,327.56 L392.02,328.13 L393.75,328.69 L395.48,329.25 L397.20,329.79 L398.93,330.32 L400.66,330.84 L402.38,331.36 L404.11,331.86 L405.84,332.36 L407.56,332.85 L409.29,333.33 L411.02,333.80 L412.74,334.27 L414.47,334.73 L416.20,335.17 L417.93,335.62 L419.65,336.05 L421.38,336.48 L423.11,336.90 L424.83,337.31 L426.56,337.72 L428.29,338.12 L430.01,338.51 L431.74,338.89 L433.47,339.27 L435.19,339.65 L436.92,340.01 L438.65,340.37 L440.37,340.73 L442.10,341.08 L443.83,341.42 L445.56,341.76 L447.28,342.09 L449.01,342.42 L450.74,342.74 L452.46,343.05 L454.19,343.36 L455.92,343.67 L457.64,343.97 L459.37,344.26 L461.10,344.55 L462.82,344.84 L464.55,345.12 L466.28,345.40 L468.01,345.67 L469.73,345.94 L471.46,346.20 L473.19,346.46 L474.91,346.71 L476.64,346.96 L478.37,347.21 L480.09,347.45 L481.82,347.69 L483.55,347.92 L485.27,348.15 L487.00,348.37 L488.73,348.60 L490.45,348.82 L492.18,349.03 L493.91,349.24 L495.64,349.45 L497.36,349.66 L499.09,349.86 L500.82,350.05 L502.54,350.25 L504.27,350.44 L506.00,350.63 L507.72,350.81 L509.45,351.00 L511.18,351.18 L512.90,351.35 L514.63,351.53 L516.36,351.70 L518.08,351.86 L519.81,352.03 L521.54,352.19 L523.27,352.35 L524.99,352.51 L526.72,352.66 L528.45,352.81 L530.17,352.96 L531.90,353.11" fill="none" stroke="#ff4040" stroke-width="0.9" stroke-dasharray="1.1,1.7"/>
<circle cx="429.50" cy="214.80" r="2.1" fill="#ff0000"/>
<text x="444" y="218.30" style="font-size:9.9px">Third loading</text>
<circle cx="429.50" cy="226.90" r="2.1999999999999997" fill="#fff" stroke="#ff4848" stroke-width="0.75"/>
<text x="444" y="230.40" style="font-size:9.9px">Third unloading</text>
<line x1="418.0" y1="239.00" x2="440.0" y2="239.00" stroke="#ff8080" stroke-width="1"/>
<text x="444" y="242.50" style="font-size:9.9px">Loading fitting curve</text>
<line x1="418.0" y1="251.10" x2="440.0" y2="251.10" stroke="#ff8080" stroke-width="1" stroke-dasharray="1.2,1.35"/>
<text x="444" y="254.60" style="font-size:9.9px">Unloading fitting curve</text>
</svg>
</body></html>
